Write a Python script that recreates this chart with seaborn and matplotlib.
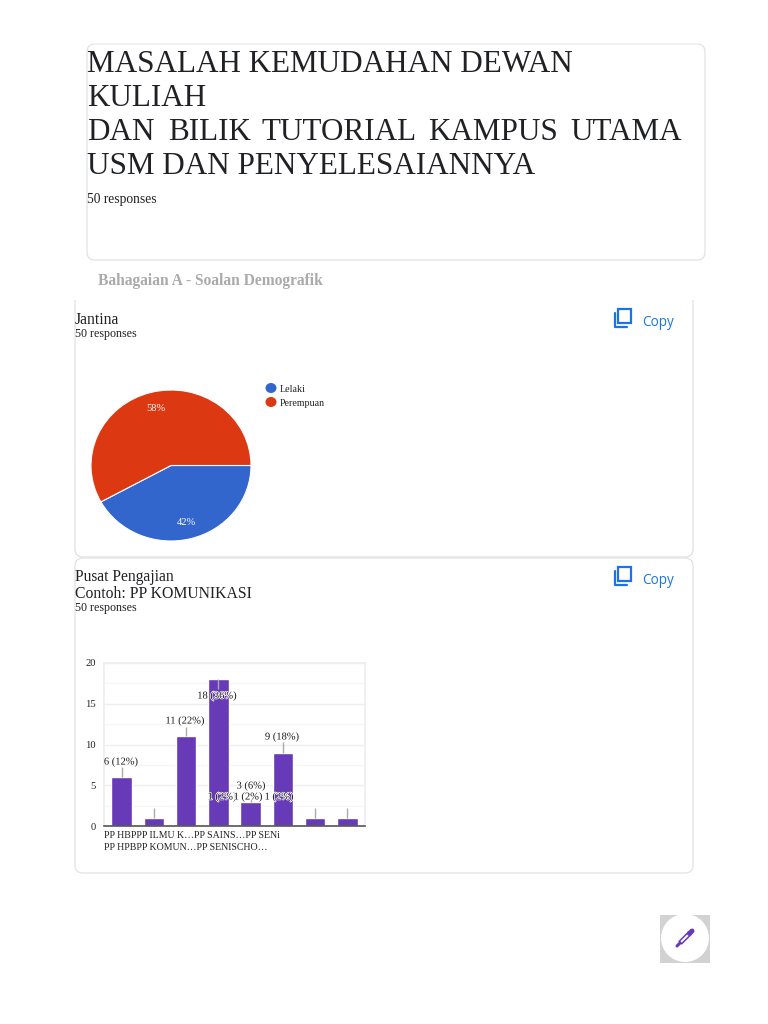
import matplotlib
matplotlib.use("Agg")
import matplotlib.pyplot as plt
import matplotlib.patheffects as pe
from matplotlib.patches import FancyBboxPatch, Rectangle, Ellipse
import pandas as pd
import seaborn as sns

W, H = 768, 1024

# data
title_lines = ["MASALAH KEMUDAHAN DEWAN", "KULIAH", "USM DAN PENYELESAIANNYA"]
title_words = ["DAN", "BILIK", "TUTORIAL", "KAMPUS", "UTAMA"]
title_word_x = [87, 168, 262, 428, 570]
gender_labels = ["Lelaki", "Perempuan"]
gender_values = [42, 58]
gender_colors = ["#3366cc", "#dc3912"]
centre_ids = ["a", "b", "c", "d", "e", "f", "g", "h"]
centre_counts = [6, 1, 11, 18, 3, 9, 1, 1]
centre_labels = ["6 (12%)", "1 (2%)", "11 (22%)", "18 (36%)", "3 (6%)", "9 (18%)", "1 (2%)", "1 (2%)"]
# label centres in pixels, google stacks them oddly so they are not above the bars
label_px = [121, 222, 185, 217, 251, 282, 248, 279]
label_py = [762, 797, 721, 696, 786, 737, 797, 797]
leader_rise = [1.2, 1.2, 1.2, -1.2, 0.3, 1.3, 1.2, 1.2]
axis_row1 = "PP HBPPP ILMU K…PP SAINS…PP SENi"
axis_row2 = "PP HPBPP KOMUN…PP SENISCHO…"

sns.set_theme(style="white")
plt.rcParams["font.family"] = ["Liberation Serif", "DejaVu Serif"]

fig = plt.figure(figsize=(W / 100, H / 100), dpi=100, facecolor="white")


def px_axes(x0, y0, x1, y1, **kw):
    # axes from pixel box, y measured from the top
    return fig.add_axes([x0 / W, 1 - y1 / H, (x1 - x0) / W, (y1 - y0) / H], **kw)


def px(size):
    return size * 0.72


# page overlay in pixel coords
page = px_axes(0, 0, W, H, zorder=5)
page.set_xlim(0, W)
page.set_ylim(H, 0)
page.axis("off")
page.patch.set_alpha(0)


def card(x0, y0, x1, y1, clip_top=None):
    box = FancyBboxPatch((x0 + 8, y0 + 8), x1 - x0 - 16, y1 - y0 - 16,
                         boxstyle="round,pad=8,rounding_size=8",
                         fc="none", ec="#dfe1e4", lw=0.9)
    page.add_patch(box)
    if clip_top is not None:
        box.set_clip_path(Rectangle((x0 - 5, clip_top), x1 - x0 + 10, y1 - clip_top + 5,
                                    transform=page.transData))


card(87, 44, 705, 260)
card(75, 250, 693, 557, clip_top=300)
card(75, 558, 693, 873)
# top edge of the first card is nearly gone in the original
page.plot([95, 697], [44, 44], color="#f3f3f3", lw=1.3)

title_color = "#202124"
title_size = px(31.2)
page.text(87, 65, title_lines[0], fontsize=title_size, color=title_color, va="center")
page.text(87, 99, title_lines[1], fontsize=title_size, color=title_color, va="center")
for word, wx in zip(title_words, title_word_x):
    page.text(wx, 133, word, fontsize=title_size, color=title_color, va="center")
page.text(87, 166, title_lines[2], fontsize=title_size, color=title_color, va="center")
page.text(87, 199, "50 responses", fontsize=px(13.5), color=title_color, va="center")
page.text(98, 281, "Bahagaian A - Soalan Demografik", fontsize=px(15.5), color="#aaaaaa",
          va="center", fontweight="bold")

page.text(75, 320, "Jantina", fontsize=px(15.5), color=title_color, va="center")
page.text(75, 334, "50 responses", fontsize=px(12), color=title_color, va="center")
page.text(75, 577, "Pusat Pengajian", fontsize=px(15.5), color=title_color, va="center")
page.text(75, 594, "Contoh: PP KOMUNIKASI", fontsize=px(15.7), color=title_color, va="center")
page.text(75, 608, "50 responses", fontsize=px(12), color=title_color, va="center")


def copy_button(y):
    blue = "#1a73e8"
    page.add_patch(Rectangle((618, y - 10), 13, 14, fc="none", ec=blue, lw=1.6))
    page.plot([614.5, 614.5, 627], [y - 6, y + 8, y + 8], color=blue, lw=1.6)
    page.text(642, y + 3, "Copy", fontsize=px(13.5), color=blue, va="center",
              family=["Open Sans", "DejaVu Sans"])


copy_button(319)
copy_button(577)

# pie, squashed like the original
pie_ax = px_axes(91, 390, 251, 541)
wedges, _, autotexts = pie_ax.pie(gender_values, colors=gender_colors, startangle=208.8,
                                  autopct="%d%%", pctdistance=0.78, radius=1,
                                  wedgeprops=dict(ec="white", lw=0.8))
pie_ax.set_aspect("auto")
pie_ax.set_xlim(-1, 1)
pie_ax.set_ylim(-1, 1)
for t in autotexts:
    t.set_color("white")
    t.set_fontsize(px(10.5))

for label, color, ly in zip(gender_labels, gender_colors, [388, 402]):
    page.add_patch(Ellipse((271, ly), 11, 10, fc=color, ec="none"))
    page.text(280, ly + 1, label, fontsize=px(10), color="#222222", va="center")

# bars
bar_ax = px_axes(104, 663, 365, 826)
df = pd.DataFrame({"centre": centre_ids, "count": centre_counts})
sns.barplot(data=df, x="centre", y="count", color="#673ab7", saturation=1, width=0.64, ax=bar_ax)
bar_ax.set_xlim(-0.55, 7.55)
bar_ax.set_ylim(0, 20)
bar_ax.set_xlabel("")
bar_ax.set_ylabel("")
bar_ax.set_xticks([])
bar_ax.set_yticks([0, 5, 10, 15, 20])
bar_ax.set_yticks([2.5, 7.5, 12.5, 17.5], minor=True)
bar_ax.grid(True, which="major", axis="y", color="#eeeeee", lw=1)
bar_ax.grid(True, which="minor", axis="y", color="#f6f6f6", lw=1)
bar_ax.set_axisbelow(True)
bar_ax.tick_params(axis="y", which="both", length=0, pad=6, labelsize=px(10.5), labelcolor="#222222")
for side in ["top", "right", "left"]:
    bar_ax.spines[side].set_color("#eeeeee")
bar_ax.spines["bottom"].set_color("#555555")
bar_ax.spines["bottom"].set_linewidth(1.2)
bar_ax.vlines(range(len(centre_counts)), centre_counts,
              [c + r for c, r in zip(centre_counts, leader_rise)], color="#aaaaaa", lw=1)

for text, lx, ly in zip(centre_labels, label_px, label_py):
    t = page.text(lx, ly, text, fontsize=px(10.5), color="#1a1a1a", ha="center", va="center")
    t.set_path_effects([pe.withStroke(linewidth=1, foreground="white")])

page.text(104, 836, axis_row1, fontsize=px(9.9), color="#222222", va="center")
page.text(104, 847, axis_row2, fontsize=px(9.9), color="#222222", va="center")

# edit button
page.add_patch(Rectangle((660, 915), 50, 48, fc="#d2d2d2", ec="none"))
page.add_patch(Ellipse((685, 938), 48, 48, fc="white", ec="none"))
page.plot([680, 690], [943, 933], color="#673ab7", lw=3.6, solid_capstyle="butt")
page.plot([681, 689], [942, 934], color="white", lw=1.4, solid_capstyle="butt")
page.plot([677, 680], [946, 943], color="#673ab7", lw=2.2)
page.plot([689.5, 692], [933.5, 931], color="#673ab7", lw=3.6)

fig.savefig("out.png", dpi=100)
